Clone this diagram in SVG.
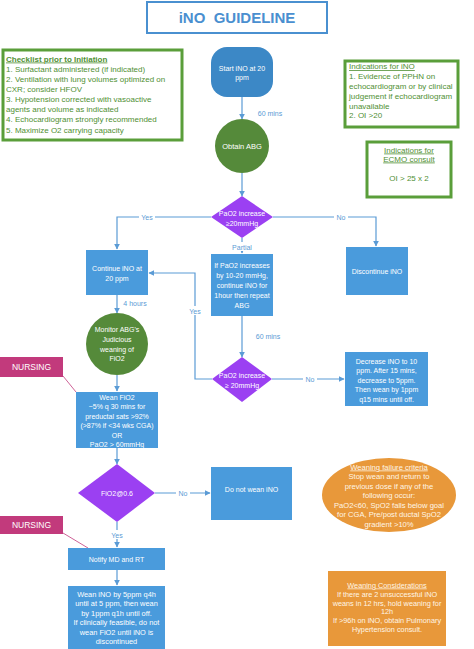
<svg xmlns="http://www.w3.org/2000/svg" width="474" height="649" viewBox="0 0 474 649">
<defs>
<marker id="ah" viewBox="0 0 10 10" refX="9" refY="5" markerWidth="6" markerHeight="6" orient="auto" markerUnits="userSpaceOnUse">
<path d="M0,0 L10,5 L0,10 z" fill="#5b9bd5"/>
</marker>
<style>
text{font-family:"Liberation Sans",Arial,sans-serif;}
.w{fill:#ffffff;font-size:7px;text-anchor:middle;}
.g{fill:#4f8f33;font-size:8px;}
.gi{fill:#4f8f33;font-size:8px;}
.gc{fill:#4f8f33;font-size:8px;text-anchor:middle;}
.lbl{fill:#5b9bd5;font-size:7px;text-anchor:middle;}
.box{fill:#4a9bdc;}
.dia{fill:#9b40f2;}
.circ{fill:#558a3a;}
.nurse{fill:#c23a7c;}
.org{fill:#e8983a;}
.gbox{fill:#ffffff;stroke:#5a9e3a;stroke-width:3;}
.cm{fill:none;stroke:#5b9bd5;stroke-width:1.2;marker-end:url(#ah);}
.ot{fill:#fff6e6;font-size:7.6px;text-anchor:middle;}
.ot2{fill:#fff6e6;font-size:7.3px;text-anchor:middle;}
.u{text-decoration:underline;}
.bg{fill:#ffffff;}
</style>
</defs>
<rect width="474" height="649" fill="#ffffff"/>

<g id="title">
<rect x="147" y="2" width="180" height="31" fill="#ffffff" stroke="#4a90d0" stroke-width="2"/>
<text x="237" y="23" style="font-size:15px;font-weight:bold;fill:#4a8fd0;text-anchor:middle" xml:space="preserve">iNO  GUIDELINE</text>
</g>

<g id="checklist">
<rect class="gbox" x="3" y="50" width="179" height="90"/>
<text class="g u" x="6" y="61.5" style="font-weight:bold">Checklist prior to Initiation</text>
<text class="g" x="6" y="71.5">1. Surfactant administered (if indicated)</text>
<text class="g" x="6" y="81.5">2. Ventilation with lung volumes optimized on</text>
<text class="g" x="6" y="91.5">CXR; consider HFOV</text>
<text class="g" x="6" y="101.5">3. Hypotension corrected with vasoactive</text>
<text class="g" x="6" y="111.5">agents  and volume as indicated</text>
<text class="g" x="6" y="122">4. Echocardiogram strongly recommended</text>
<text class="g" x="6" y="133">5. Maximize O2 carrying capacity</text>
</g>

<g id="indications">
<rect class="gbox" x="345" y="61" width="113" height="66"/>
<text class="gi u" x="349" y="69">Indications for iNO</text>
<text class="gi" x="349" y="79">1. Evidence of PPHN on</text>
<text class="gi" x="349" y="89">echocardiogram or by clinical</text>
<text class="gi" x="349" y="99">judgement if echocardiogram</text>
<text class="gi" x="349" y="108.5">unavailable</text>
<text class="gi" x="349" y="117.5">2. OI &gt;20</text>
</g>

<g id="ecmo">
<rect class="gbox" x="367" y="142" width="84" height="55"/>
<text class="gc u" x="409" y="152.5">Indications for</text>
<text class="gc u" x="409" y="161.5">ECMO consult</text>
<text class="gc" x="409" y="180.5">OI &gt; 25 x 2</text>
</g>

<g id="connectors">
<line class="cm" x1="242" y1="97" x2="242" y2="119"/>
<line class="cm" x1="242" y1="173" x2="242" y2="196"/>
<polyline class="cm" points="211,217 117,217 117,249"/>
<polyline class="cm" points="273,217 376,217 376,246"/>
<line class="cm" x1="242" y1="238" x2="242" y2="253"/>
<line class="cm" x1="117" y1="295" x2="117" y2="313"/>
<line class="cm" x1="117" y1="375" x2="117" y2="391"/>
<polyline class="cm" points="212,379 195,379 195,273 149,273"/>
<line class="cm" x1="242" y1="316" x2="242" y2="357"/>
<line class="cm" x1="272" y1="379" x2="344" y2="379"/>
<line class="cm" x1="117" y1="448" x2="117" y2="464"/>
<line class="cm" x1="155" y1="493" x2="210" y2="493"/>
<line class="cm" x1="117" y1="522" x2="117" y2="547"/>
<line class="cm" x1="117" y1="570" x2="117" y2="585"/>
<line x1="63" y1="376" x2="76" y2="392" stroke="#c23a7c" stroke-width="0.8"/>
<line x1="63" y1="533" x2="88" y2="548" stroke="#c23a7c" stroke-width="0.8"/>
<text class="lbl" x="270" y="115.5">60 mins</text>
<rect class="bg" x="139" y="212" width="16" height="9"/>
<text class="lbl" x="147" y="219.5">Yes</text>
<rect class="bg" x="334" y="212" width="14" height="9"/>
<text class="lbl" x="341" y="219.5">No</text>
<rect class="bg" x="229" y="242" width="26" height="9"/>
<text class="lbl" x="242" y="249.5">Partial</text>
<text class="lbl" x="135" y="305.5">4 hours</text>
<rect class="bg" x="187" y="306" width="16" height="9"/>
<text class="lbl" x="195" y="313.5">Yes</text>
<text class="lbl" x="268" y="338.5">60 mins</text>
<rect class="bg" x="303" y="374" width="14" height="9"/>
<text class="lbl" x="310" y="381.5">No</text>
<rect class="bg" x="176" y="488" width="14" height="9"/>
<text class="lbl" x="183" y="495.5">No</text>
<rect class="bg" x="109" y="530" width="16" height="9"/>
<text class="lbl" x="117" y="537.5">Yes</text>
</g>

<g id="start">
<rect x="211" y="47" width="62" height="50" rx="16" fill="#3c88c6"/>
<text class="w" x="242" y="70.5">Start iNO at 20</text>
<text class="w" x="242" y="79.5">ppm</text>
</g>

<g id="obtain-abg">
<circle class="circ" cx="242" cy="146" r="27"/>
<text class="w" x="242" y="149" style="font-size:7.5px">Obtain ABG</text>
</g>

<g id="decision1">
<polygon class="dia" points="242,196 273,217 242,238 211,217"/>
<text class="w" x="242" y="215.5">PaO2 increase</text>
<text class="w" x="242" y="225.5">≥20mmHg</text>
</g>

<g id="continue">
<rect class="box" x="86" y="250" width="62" height="45"/>
<text class="w" x="117" y="270.5">Continue iNO at</text>
<text class="w" x="117" y="280.5">20 ppm</text>
</g>

<g id="partial">
<rect class="box" x="211" y="254" width="62" height="62"/>
<text class="w" x="242" y="267.5">If PaO2 increases</text>
<text class="w" x="242" y="277.5">by 10-20 mmHg,</text>
<text class="w" x="242" y="287.5">continue iNO for</text>
<text class="w" x="242" y="297.5">1hour then repeat</text>
<text class="w" x="242" y="307.5">ABG</text>
</g>

<g id="discontinue">
<rect class="box" x="346" y="247" width="62" height="48"/>
<text class="w" x="377" y="273.5">Discontinue iNO</text>
</g>

<g id="monitor">
<circle class="circ" cx="117" cy="344" r="31"/>
<text class="w" x="117" y="332">Monitor ABG's</text>
<text class="w" x="117" y="342">Judicious</text>
<text class="w" x="117" y="351.5">weaning of</text>
<text class="w" x="117" y="361">FiO2</text>
</g>

<g id="decision2">
<polygon class="dia" points="242,357 272,379 242,402 212,379"/>
<text class="w" x="242" y="377.5">PaO2 increase</text>
<text class="w" x="242" y="387.5">≥ 20mmHg</text>
</g>

<g id="decrease">
<rect class="box" x="345" y="352" width="83" height="54"/>
<text class="w" x="386.5" y="363.5">Decrease iNO to 10</text>
<text class="w" x="386.5" y="373">ppm. After 15 mins,</text>
<text class="w" x="386.5" y="382.5">decrease to 5ppm.</text>
<text class="w" x="386.5" y="392">Then wean by 1ppm</text>
<text class="w" x="386.5" y="401.5">q15 mins until off.</text>
</g>

<g id="nursing1">
<rect class="nurse" x="0" y="357" width="63" height="20"/>
<text class="w" x="31.5" y="370" style="font-size:8.5px">NURSING</text>
</g>

<g id="wean-fio2">
<rect class="box" x="76" y="392" width="82" height="56"/>
<text class="w" x="117" y="399.5">Wean FiO2</text>
<text class="w" x="117" y="409">~5% q 30 mins for</text>
<text class="w" x="117" y="418.5">preductal sats &gt;92%</text>
<text class="w" x="117" y="428">(&gt;87% if &lt;34 wks CGA)</text>
<text class="w" x="117" y="437.5">OR</text>
<text class="w" x="117" y="447">PaO2 &gt; 60mmHg</text>
</g>

<g id="decision3">
<polygon class="dia" points="117,464 155,493 117,522 78,493"/>
<text class="w" x="117" y="495.5">FiO2@0.6</text>
</g>

<g id="do-not-wean">
<rect class="box" x="211" y="467" width="81" height="53"/>
<text class="w" x="251.5" y="491.5">Do not wean iNO</text>
</g>

<g id="nursing2">
<rect class="nurse" x="0" y="516" width="63" height="18"/>
<text class="w" x="31.5" y="528" style="font-size:8.5px">NURSING</text>
</g>

<g id="notify">
<rect class="box" x="68" y="548" width="97" height="22"/>
<text class="w" x="116.5" y="561.5">Notify MD and RT</text>
</g>

<g id="wean-ino">
<rect class="box" x="68" y="586" width="97" height="66"/>
<text class="w" x="116.5" y="596.5" style="font-size:7.4px">Wean iNO by 5ppm q4h</text>
<text class="w" x="116.5" y="606" style="font-size:7.4px">until at 5 ppm, then wean</text>
<text class="w" x="116.5" y="615.5" style="font-size:7.4px">by 1ppm q1h until off.</text>
<text class="w" x="116.5" y="625" style="font-size:7.4px">If clinically feasible, do not</text>
<text class="w" x="116.5" y="634.5" style="font-size:7.4px">wean FiO2 until iNO is</text>
<text class="w" x="116.5" y="644" style="font-size:7.4px">discontinued</text>
</g>

<g id="weaning-failure">
<ellipse class="org" cx="389" cy="495" rx="67" ry="37"/>
<text class="ot u" x="389" y="469.5">Weaning failure criteria</text>
<text class="ot" x="389" y="479">Stop wean and return to</text>
<text class="ot" x="389" y="488.5">previous dose if any of the</text>
<text class="ot" x="389" y="498">following occur:</text>
<text class="ot" x="389" y="507.5">PaO2&lt;60, SpO2 falls below goal</text>
<text class="ot" x="389" y="517">for CGA, Pre/post ductal SpO2</text>
<text class="ot" x="389" y="526.5">gradient &gt;10%</text>
</g>

<g id="weaning-considerations">
<rect class="org" x="328" y="571" width="118" height="75"/>
<text class="ot2 u" x="387" y="587.5">Weaning Considerations</text>
<text class="ot2" x="387" y="596.5">If there are 2 unsuccessful iNO</text>
<text class="ot2" x="387" y="605.5">weans in 12 hrs, hold weaning for</text>
<text class="ot2" x="387" y="614">12h</text>
<text class="ot2" x="387" y="623">If &gt;96h on iNO, obtain Pulmonary</text>
<text class="ot2" x="387" y="632">Hypertension consult.</text>
</g>
</svg>
